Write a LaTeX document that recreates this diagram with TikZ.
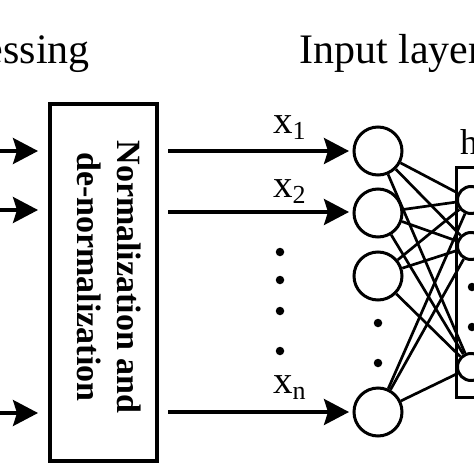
\documentclass[tikz,border=0pt]{standalone}
\usepackage{fontspec}
\setmainfont{Liberation Serif}
\usetikzlibrary{arrows.meta}
\tikzset{
  arr/.style={line width=3.2pt,-{Stealth[length=25pt,width=26pt,inset=4pt]}},
  incirc/.style={draw,circle,line width=3pt,minimum size=48pt,inner sep=0pt},
  hidcirc/.style={draw,circle,line width=3pt,minimum size=27pt,inner sep=0pt},
  dotn/.style={circle,fill,minimum size=8.5pt,inner sep=0pt},
  conn/.style={line width=2.7pt},
  lab/.style={anchor=base west,inner sep=0pt,font=\fontsize{39}{39}\selectfont},
  ttl/.style={inner sep=0pt,font=\fontsize{42}{42}\selectfont},
}
\newcommand{\subx}[1]{x\raisebox{-6pt}{\fontsize{26}{26}\selectfont #1}}
\begin{document}
\begin{tikzpicture}[x=1pt,y=-1pt]
\useasboundingbox (0,0) rectangle (474,474);
\clip (0,0) rectangle (474,474);
% titles
\node[ttl,anchor=base east] (t1) at (90,63) {essing};
\node[ttl,anchor=base west] (t2) at (299,63) {Input layer};
\node[anchor=base west,inner sep=0pt,font=\fontsize{36}{36}\selectfont] (t3) at (460,154) {h};
% normalization box
\node[draw,line width=3.2pt,minimum width=107pt,minimum height=357pt,inner sep=0pt] (nb) at (103.5,282.5) {};
\node[rotate=-90,align=center,inner sep=0pt,font=\fontsize{34}{40}\selectfont\bfseries] (nt) at (109,277) {Normalization and\\de-normalization};
% left arrows
\coordinate (l1) at (0,151);
\coordinate (l2) at (0,210);
\coordinate (l3) at (0,413);
\coordinate (le1) at (38,151);
\coordinate (le2) at (38,210);
\coordinate (le3) at (38,413);
\draw[arr] (l1) -- (le1);
\draw[arr] (l2) -- (le2);
\draw[arr] (l3) -- (le3);
% input circles
\node[incirc] (i1) at (378,151) {};
\node[incirc] (i2) at (378,213) {};
\node[incirc] (i3) at (378,276) {};
\node[incirc] (in) at (378,412) {};
\node[dotn] (id1) at (378,323) {};
\node[dotn] (id2) at (378,363) {};
% right arrows
\coordinate (r1) at (168,151);
\coordinate (r2) at (168,212);
\coordinate (r3) at (168,412);
\coordinate (re1) at (349,151);
\coordinate (re2) at (349,212);
\coordinate (re3) at (349,412);
\draw[arr] (r1) -- (re1);
\draw[arr] (r2) -- (re2);
\draw[arr] (r3) -- (re3);
% labels
\node[lab] (x1) at (273,133) {\subx{1}};
\node[lab] (x2) at (273,197) {\subx{2}};
\node[lab] (xn) at (273,393) {\subx{n}};
\node[dotn] (ld1) at (280,252) {};
\node[dotn] (ld2) at (280,280) {};
\node[dotn] (ld3) at (280,311) {};
\node[dotn] (ld4) at (280,351) {};
% hidden layer
\node[draw,line width=3.2pt,anchor=north west,minimum width=60pt,minimum height=230pt,inner sep=0pt] (hb) at (455,166) {};
\node[hidcirc] (h1) at (471,200) {};
\node[hidcirc] (h2) at (471,246) {};
\node[hidcirc] (h3) at (471,367) {};
\node[dotn] (hd1) at (472,287) {};
\node[dotn] (hd2) at (472,327) {};
\foreach \a in {i1,i2,i3,in}{
  \foreach \b in {h1,h2,h3}{
    \draw[conn] (\a) -- (\b);
  }
}
\end{tikzpicture}
\end{document}
